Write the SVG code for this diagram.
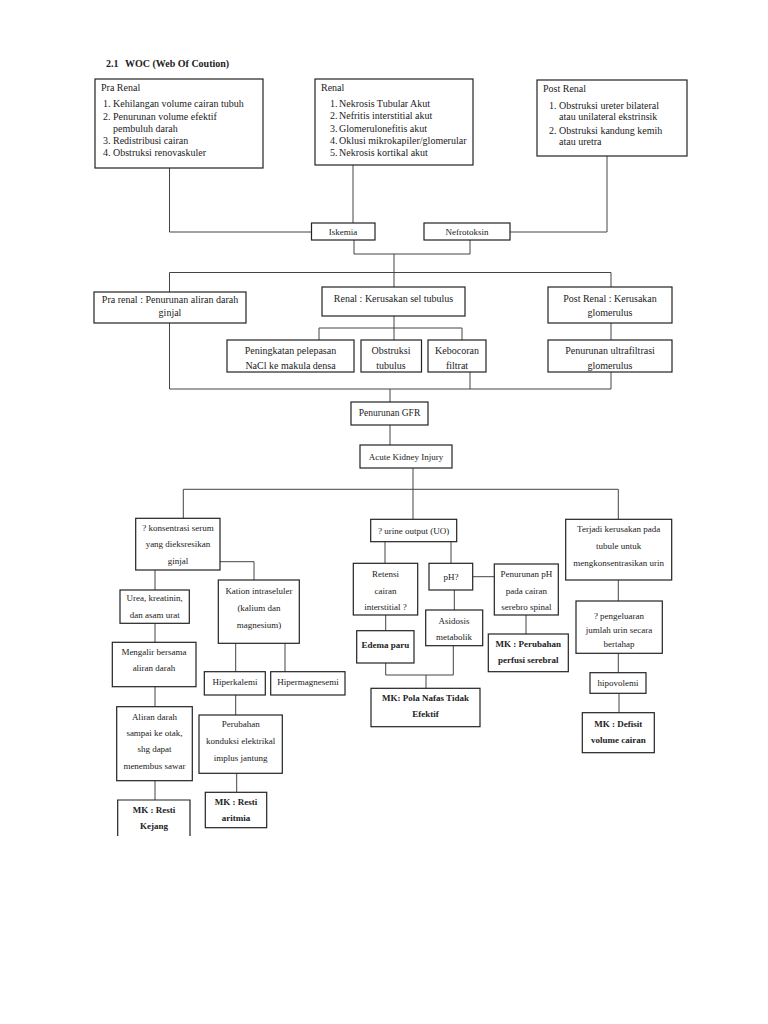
<svg xmlns="http://www.w3.org/2000/svg" width="768" height="1024" viewBox="0 0 768 1024">
<style>
.bx{fill:#fff;stroke:#222;stroke-width:1.2}
.cn{fill:none;stroke:#444;stroke-width:1}
text{font-family:"Liberation Serif","Times New Roman",serif;fill:#222}
.t10{font-size:10px}
.t9{font-size:9px}
.c{text-anchor:middle}
.b{font-weight:bold}
</style>
<rect width="768" height="1024" fill="#fff"/>
<text x="106" y="67" class="t10 b">2.1<tspan x="125">WOC (Web Of Coution)</tspan></text>

<g id="connectors">
<path class="cn" d="M169.5,168 V232 H311.5"/>
<path class="cn" d="M353,165 V223"/>
<path class="cn" d="M607,156 V232 H510"/>
<path class="cn" d="M354,240 V254 H470 V240"/>
<path class="cn" d="M394,254 V272.5"/>
<path class="cn" d="M169.5,292 V272.5 H611 V287"/>
<path class="cn" d="M394,272.5 V287"/>
<path class="cn" d="M394,316 V340"/>
<path class="cn" d="M319,340 V328 H462 V340"/>
<path class="cn" d="M611,323 V340"/>
<path class="cn" d="M169.5,323 V389 H611 V372"/>
<path class="cn" d="M470,372 V389"/>
<path class="cn" d="M390,389 V402"/>
<path class="cn" d="M390,425 V445"/>
<path class="cn" d="M413,468 V519"/>
<path class="cn" d="M183.3,518.3 V489.3 H618.3 V519.3"/>
<path class="cn" d="M220,561.7 H254 V580"/>
<path class="cn" d="M155,570 V590"/>
<path class="cn" d="M155,623.3 V642.3"/>
<path class="cn" d="M155,686.7 V706.7"/>
<path class="cn" d="M155,780.7 V800"/>
<path class="cn" d="M235.7,643.3 V671.7"/>
<path class="cn" d="M285,643.3 V671.7"/>
<path class="cn" d="M235.7,695 V715"/>
<path class="cn" d="M236.7,773.3 V792.3"/>
<path class="cn" d="M385,541.7 V563.3"/>
<path class="cn" d="M451,541.7 V563.3"/>
<path class="cn" d="M472.7,576.7 H494.3"/>
<path class="cn" d="M454.3,590 V610"/>
<path class="cn" d="M526,615 V634"/>
<path class="cn" d="M385.7,615 V630.7"/>
<path class="cn" d="M385.7,663 V675 H453.3 V645.7"/>
<path class="cn" d="M426,675 V688.3"/>
<path class="cn" d="M618.3,580 V601"/>
<path class="cn" d="M618.3,653.3 V672.7"/>
<path class="cn" d="M619,693.3 V712.7"/>
</g>

<g id="pra-renal">
<rect class="bx" x="95" y="79" width="168" height="89"/>
<text class="t10" x="101" y="91">Pra Renal</text>
<text class="t10" x="103" y="107">1.<tspan x="113">Kehilangan volume cairan tubuh</tspan></text>
<text class="t10" x="103" y="119.5">2.<tspan x="113">Penurunan volume efektif</tspan></text>
<text class="t10" x="113" y="131.5">pembuluh darah</text>
<text class="t10" x="103" y="143.5">3.<tspan x="113">Redistribusi cairan</tspan></text>
<text class="t10" x="103" y="155.5">4.<tspan x="113">Obstruksi renovaskuler</tspan></text>
</g>
<g id="renal">
<rect class="bx" x="315" y="79" width="158" height="86"/>
<text class="t10" x="321" y="90.5">Renal</text>
<text class="t10" x="330" y="107">1.<tspan x="339">Nekrosis Tubular Akut</tspan></text>
<text class="t10" x="330" y="119.3">2.<tspan x="339">Nefritis interstitial akut</tspan></text>
<text class="t10" x="330" y="131.6">3.<tspan x="339">Glomerulonefitis akut</tspan></text>
<text class="t10" x="330" y="143.9">4.<tspan x="339">Oklusi mikrokapiler/glomerular</tspan></text>
<text class="t10" x="330" y="156.2">5.<tspan x="339">Nekrosis kortikal akut</tspan></text>
</g>
<g id="post-renal">
<rect class="bx" x="537" y="80" width="150" height="76"/>
<text class="t10" x="543" y="92">Post Renal</text>
<text class="t10" x="549" y="108.5">1.<tspan x="559">Obstruksi ureter bilateral</tspan></text>
<text class="t10" x="559" y="120">atau unilateral ekstrinsik</text>
<text class="t10" x="549" y="133.5">2.<tspan x="559">Obstruksi kandung kemih</tspan></text>
<text class="t10" x="559" y="145">atau uretra</text>
</g>

<g id="iskemia">
<rect class="bx" x="311.5" y="223" width="63.5" height="17"/>
<text class="t9 c" x="343" y="235">Iskemia</text>
</g>
<g id="nefrotoksin">
<rect class="bx" x="424" y="223" width="86" height="17"/>
<text class="t9 c" x="467" y="235">Nefrotoksin</text>
</g>

<g id="pra-renal-2">
<rect class="bx" x="94" y="292" width="152" height="31"/>
<text class="t10 c" x="170" y="303">Pra renal : Penurunan aliran darah</text>
<text class="t10 c" x="170" y="316">ginjal</text>
</g>
<g id="renal-2">
<rect class="bx" x="322" y="287" width="143" height="29"/>
<text class="t10 c" x="393.5" y="302">Renal : Kerusakan sel tubulus</text>
</g>
<g id="post-renal-2">
<rect class="bx" x="548" y="287" width="124" height="36"/>
<text class="t10 c" x="610" y="302">Post Renal : Kerusakan</text>
<text class="t10 c" x="610" y="316">glomerulus</text>
</g>
<g id="peningkatan">
<rect class="bx" x="227" y="340" width="127" height="32"/>
<text class="t10 c" x="290.5" y="354">Peningkatan pelepasan</text>
<text class="t10 c" x="290.5" y="369">NaCl ke makula densa</text>
</g>
<g id="obstruksi">
<rect class="bx" x="361" y="340" width="60.5" height="32"/>
<text class="t10 c" x="391" y="354">Obstruksi</text>
<text class="t10 c" x="391" y="369">tubulus</text>
</g>
<g id="kebocoran">
<rect class="bx" x="428" y="340" width="58" height="32"/>
<text class="t10 c" x="457" y="354">Kebocoran</text>
<text class="t10 c" x="457" y="369">filtrat</text>
</g>
<g id="ultrafiltrasi">
<rect class="bx" x="548" y="340" width="124" height="32"/>
<text class="t10 c" x="610" y="354">Penurunan ultrafiltrasi</text>
<text class="t10 c" x="610" y="369">glomerulus</text>
</g>

<g id="gfr">
<rect class="bx" x="351" y="402" width="77" height="23"/>
<text class="t10 c" x="389.5" y="416" style="font-size:9.5px">Penurunan GFR</text>
</g>
<g id="aki">
<rect class="bx" x="360" y="445" width="92" height="23"/>
<text class="t9 c" x="406" y="459.5">Acute Kidney Injury</text>
</g>

<g id="konsentrasi">
<rect class="bx" x="135.7" y="518.3" width="84.3" height="51.7"/>
<text class="t9 c" x="178" y="531">? konsentrasi serum</text>
<text class="t9 c" x="178" y="547">yang dieksresikan</text>
<text class="t9 c" x="178" y="564">ginjal</text>
</g>
<g id="urea">
<rect class="bx" x="120" y="590" width="69.3" height="33.3"/>
<text class="t9 c" x="154.7" y="601">Urea, kreatinin,</text>
<text class="t9 c" x="154.7" y="618">dan asam urat</text>
</g>
<g id="mengalir">
<rect class="bx" x="112.3" y="642.3" width="83.7" height="44.4"/>
<text class="t9 c" x="154" y="655">Mengalir bersama</text>
<text class="t9 c" x="154" y="671">aliran darah</text>
</g>
<g id="aliran">
<rect class="bx" x="116.7" y="706.7" width="75.6" height="74"/>
<text class="t9 c" x="154.5" y="720">Aliran darah</text>
<text class="t9 c" x="154.5" y="736">sampai ke otak,</text>
<text class="t9 c" x="154.5" y="752">shg dapat</text>
<text class="t9 c" x="154.5" y="769">menembus sawar</text>
</g>
<g id="mk-kejang">
<path class="bx" d="M117.7,836 V800 H190 V836"/>
<text class="t9 c b" x="154" y="813">MK : Resti</text>
<text class="t9 c b" x="154" y="829">Kejang</text>
</g>
<g id="kation">
<rect class="bx" x="218.3" y="580" width="81" height="63.3"/>
<text class="t9 c" x="259" y="594">Kation intraseluler</text>
<text class="t9 c" x="259" y="611">(kalium dan</text>
<text class="t9 c" x="259" y="628">magnesium)</text>
</g>
<g id="hiperkalemi">
<rect class="bx" x="204.3" y="671.7" width="61" height="23.3"/>
<text class="t9 c" x="235" y="685">Hiperkalemi</text>
</g>
<g id="hipermagnesemi">
<rect class="bx" x="270.7" y="671.7" width="74.3" height="23.3"/>
<text class="t9 c" x="308" y="685">Hipermagnesemi</text>
</g>
<g id="perubahan-konduksi">
<rect class="bx" x="199" y="715" width="83.3" height="58.3"/>
<text class="t9 c" x="240.7" y="727">Perubahan</text>
<text class="t9 c" x="240.7" y="744">konduksi elektrikal</text>
<text class="t9 c" x="240.7" y="761">implus jantung</text>
</g>
<g id="mk-aritmia">
<rect class="bx" x="205.3" y="792.3" width="61.4" height="35.4"/>
<text class="t9 c b" x="236" y="805">MK : Resti</text>
<text class="t9 c b" x="236" y="821">aritmia</text>
</g>

<g id="urine-output">
<rect class="bx" x="370.7" y="519.3" width="86" height="22.4"/>
<text class="t9 c" x="413.7" y="533.5">? urine output (UO)</text>
</g>
<g id="retensi">
<rect class="bx" x="353.3" y="563.3" width="64.4" height="51.7"/>
<text class="t9 c" x="385.5" y="577">Retensi</text>
<text class="t9 c" x="385.5" y="594">cairan</text>
<text class="t9 c" x="385.5" y="610">interstitial ?</text>
</g>
<g id="ph">
<rect class="bx" x="429" y="563.3" width="43.7" height="26.7"/>
<text class="t9 c" x="451" y="580">pH?</text>
</g>
<g id="penurunan-ph">
<rect class="bx" x="494.3" y="564" width="64" height="51"/>
<text class="t9 c" x="526.3" y="577">Penurunan pH</text>
<text class="t9 c" x="526.3" y="594">pada cairan</text>
<text class="t9 c" x="526.3" y="610">serebro spinal</text>
</g>
<g id="asidosis">
<rect class="bx" x="425.7" y="610" width="57" height="35.7"/>
<text class="t9 c" x="454" y="624">Asidosis</text>
<text class="t9 c" x="454" y="640">metabolik</text>
</g>
<g id="edema">
<rect class="bx" x="356.7" y="630.7" width="57.3" height="32.3"/>
<text class="t9 c b" x="385.3" y="648">Edema paru</text>
</g>
<g id="mk-perfusi">
<rect class="bx" x="488.3" y="634" width="80" height="37.7"/>
<text class="t9 c b" x="528.3" y="647">MK : Perubahan</text>
<text class="t9 c b" x="528.3" y="663">perfusi serebral</text>
</g>
<g id="mk-pola-nafas">
<rect class="bx" x="371" y="688.3" width="109" height="38.4"/>
<text class="t9 c b" x="425.5" y="701">MK: Pola Nafas Tidak</text>
<text class="t9 c b" x="425.5" y="717">Efektif</text>
</g>

<g id="terjadi">
<rect class="bx" x="565.7" y="519.3" width="106" height="60.7"/>
<text class="t9 c" x="618.7" y="532">Terjadi kerusakan pada</text>
<text class="t9 c" x="618.7" y="549">tubule untuk</text>
<text class="t9 c" x="618.7" y="566">mengkonsentrasikan urin</text>
</g>
<g id="pengeluaran">
<rect class="bx" x="576" y="601" width="86.3" height="52.3"/>
<text class="t9 c" x="619" y="619">? pengeluaran</text>
<text class="t9 c" x="619" y="633">jumlah urin secara</text>
<text class="t9 c" x="619" y="647">bertahap</text>
</g>
<g id="hipovolemi">
<rect class="bx" x="590" y="672.7" width="56" height="20.6"/>
<text class="t9 c" x="618" y="686">hipovolemi</text>
</g>
<g id="mk-defisit">
<rect class="bx" x="582.3" y="712.7" width="72" height="40"/>
<text class="t9 c b" x="618.3" y="727">MK : Defisit</text>
<text class="t9 c b" x="618.3" y="743">volume cairan</text>
</g>
</svg>
